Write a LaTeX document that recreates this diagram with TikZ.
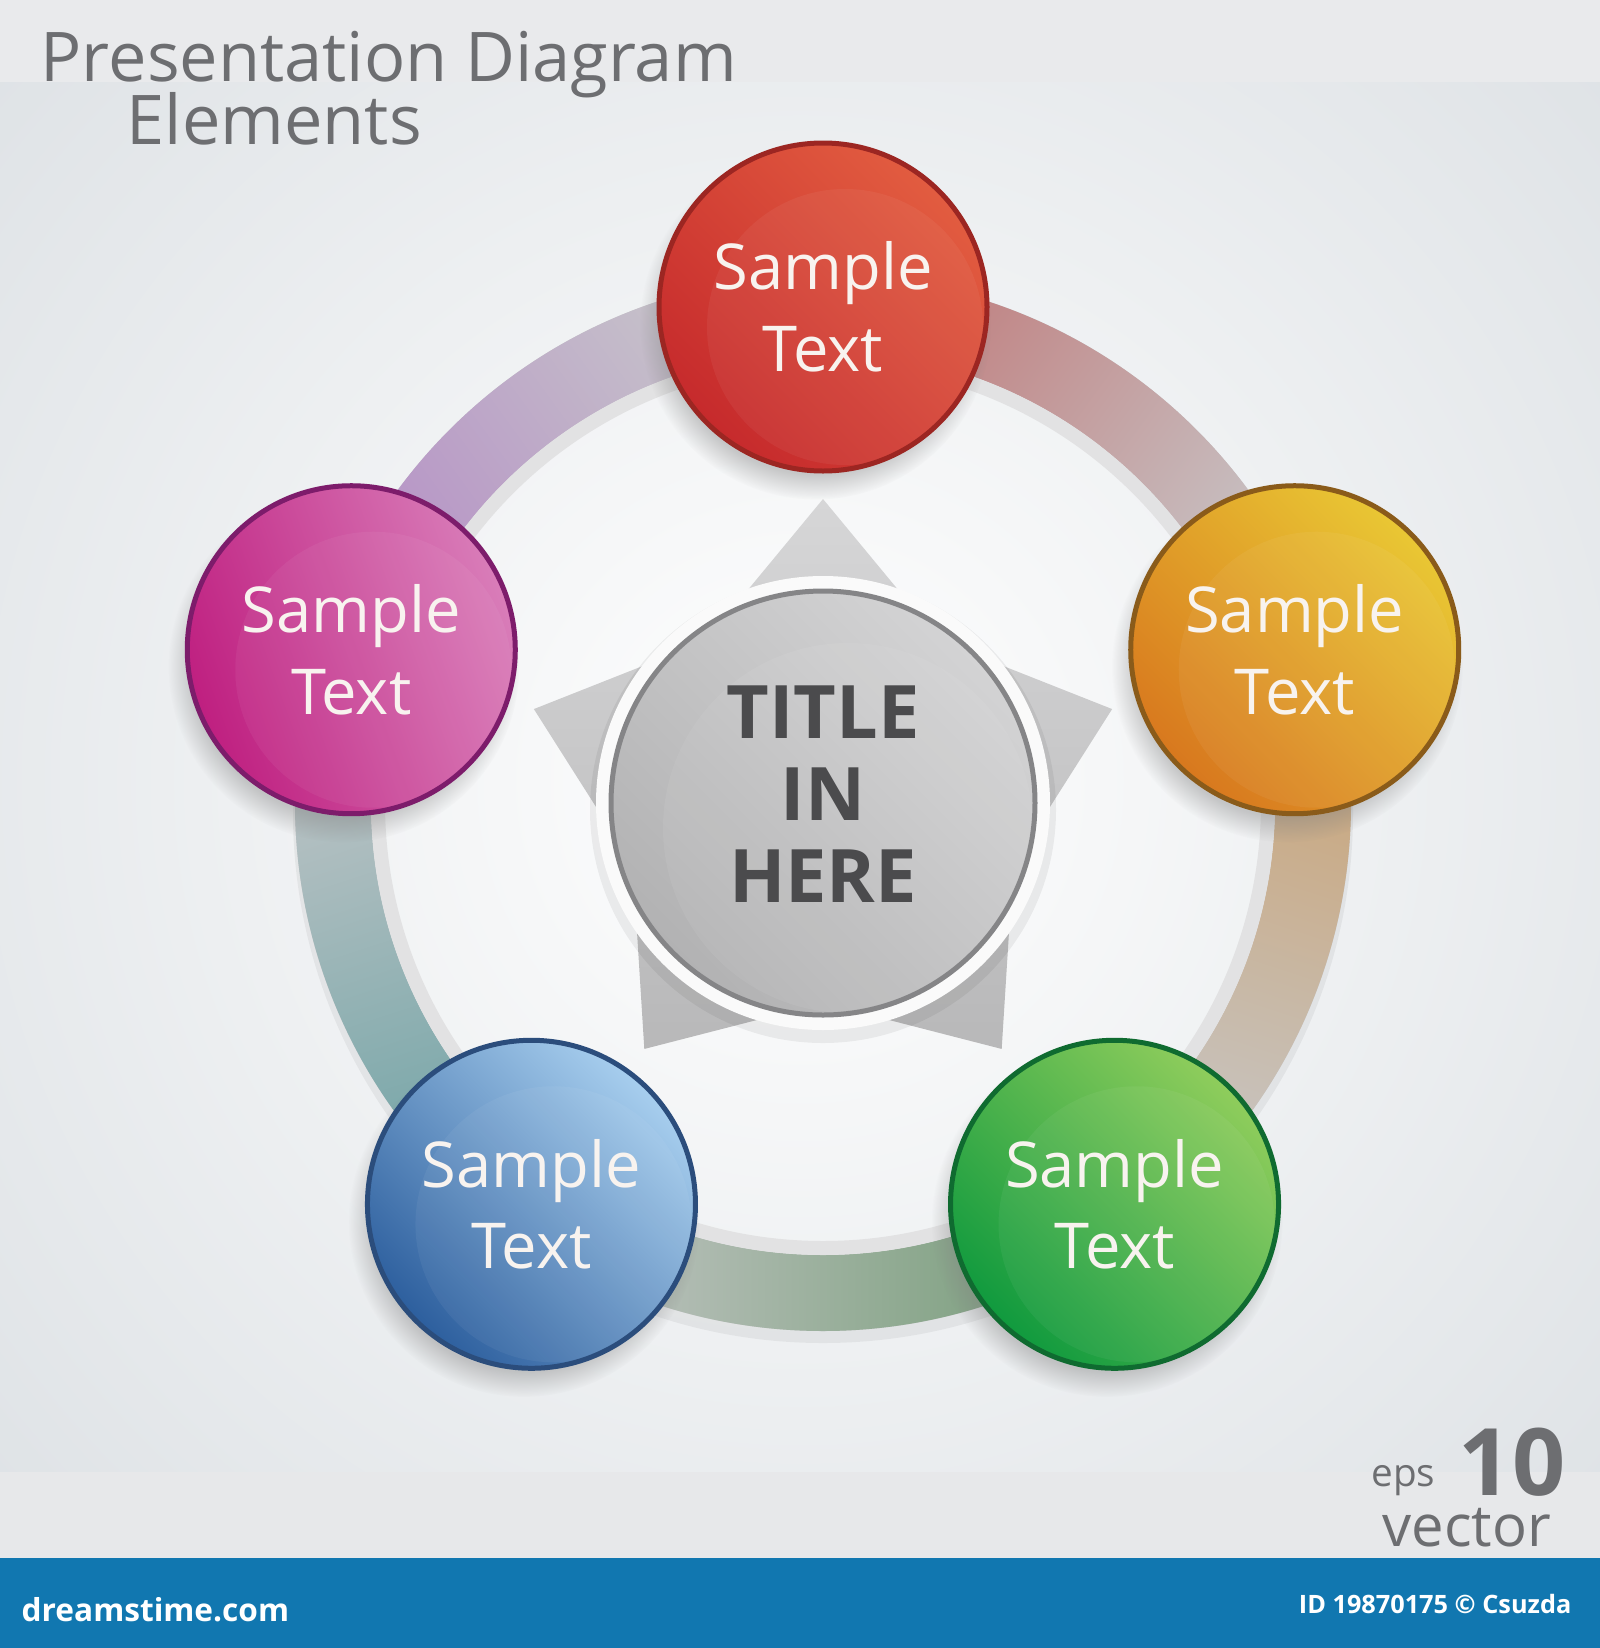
\documentclass[tikz,border=0pt]{standalone}
\usepackage{fontspec}
\setmainfont{Open Sans}
\usetikzlibrary{shadows}

%% page colours
\definecolor{topgray}{HTML}{E9EAEC}
\definecolor{botgray}{HTML}{E7E8EA}
\definecolor{bgedge}{HTML}{C6CDD3}
\definecolor{barblue}{HTML}{1177B0}
\definecolor{hdrgray}{HTML}{6D6E71}
\definecolor{ringgray}{HTML}{C8C8CA}
\definecolor{lipgray}{HTML}{E2E2E3}
\definecolor{starLt}{HTML}{D6D6D7}
\definecolor{starDk}{HTML}{B8B8B9}
\definecolor{diskLt}{HTML}{D3D3D4}
\definecolor{diskDk}{HTML}{B2B2B3}
\definecolor{diskRim}{HTML}{858587}
\definecolor{ttlgray}{HTML}{4B4B4D}
\definecolor{smpwhite}{HTML}{F8F3EF}
%% circle colours
\definecolor{redDk}{HTML}{C62A2C}
\definecolor{redLt}{HTML}{E25C40}
\definecolor{redRim}{HTML}{9C2622}
\definecolor{orgDk}{HTML}{D8781E}
\definecolor{orgLt}{HTML}{E9C734}
\definecolor{orgRim}{HTML}{8A5B1A}
\definecolor{grnDk}{HTML}{109A3E}
\definecolor{grnLt}{HTML}{8FCD5C}
\definecolor{grnRim}{HTML}{0F6B30}
\definecolor{bluDk}{HTML}{2D5F9E}
\definecolor{bluLt}{HTML}{A7CEEE}
\definecolor{bluRim}{HTML}{2B4D7C}
\definecolor{magDk}{HTML}{BF1F80}
\definecolor{magLt}{HTML}{D97DB9}
\definecolor{magRim}{HTML}{7D1C6B}
%% ring tints
\definecolor{tRed}{HTML}{C07E7E}
\definecolor{tOrg}{HTML}{C9A272}
\definecolor{tGrn}{HTML}{6E9870}
\definecolor{tBlu}{HTML}{6FA3A5}
\definecolor{tMag}{HTML}{B58FC6}

\tikzset{
  smp/.style={circle, minimum size=3.28cm, inner sep=0pt, line width=0.05cm,
    align=center, text=smpwhite, font=\fontsize{18}{23.3}\selectfont,
    circular drop shadow={shadow xshift=-0.07cm, shadow yshift=-0.16cm,
      shadow scale=1.07, opacity=0.4},
    path picture={\fill[white, opacity=0.05]
      ([shift={(0.22,-0.2)}]path picture bounding box.center) circle (1.38);}},
  hdr/.style={anchor=base west, inner sep=0pt, text=hdrgray,
    font=\fontsize{19.5}{23}\selectfont},
  epstxt/.style={inner sep=0pt, text=hdrgray},
  bartxt/.style={inner sep=0pt, text=white}
}

\begin{document}
\begin{tikzpicture}
\useasboundingbox (0,0) rectangle (16,-16.48);

%% Background bands
\fill[topgray] (0,0) rectangle (16,-0.82);
\begin{scope}
\clip (0,-0.82) rectangle (16,-14.72);
\shade[inner color=white, outer color=bgedge] (-11,-26.8) rectangle (27,11.2);
\end{scope}
\fill[botgray] (0,-14.72) rectangle (16,-15.58);
\fill[barblue] (0,-15.58) rectangle (16,-16.48);

%% Heading
\node[hdr] (hdrA) at (0.40,-0.81) {Presentation Diagram};
\node[hdr] (hdrB) at (1.26,-1.44) {Elements};

\begin{scope}[shift={(8.23,-8.03)}]
%% Ring
\draw[line width=0.5cm, black, opacity=0.05] (0,-0.1) circle (5.05);
\draw[line width=0.76cm, ringgray] (0,0) circle (4.90);
\shade[left color=tRed, right color=ringgray, shading angle=54]
  (90:5.28) arc (90:18:5.28) -- (18:4.52) arc (18:90:4.52) -- cycle;
\shade[left color=tOrg, right color=ringgray, shading angle=-18]
  (18:5.28) arc (18:-54:5.28) -- (-54:4.52) arc (-54:18:4.52) -- cycle;
\shade[left color=tGrn, right color=ringgray, shading angle=-90]
  (-54:5.28) arc (-54:-126:5.28) -- (-126:4.52) arc (-126:-54:4.52) -- cycle;
\shade[left color=tBlu, right color=ringgray, shading angle=-162]
  (-126:5.28) arc (-126:-198:5.28) -- (-198:4.52) arc (-198:-126:4.52) -- cycle;
\shade[left color=tMag, right color=ringgray, shading angle=126]
  (162:5.28) arc (162:90:5.28) -- (90:4.52) arc (90:162:4.52) -- cycle;
\draw[line width=0.14cm, lipgray] (0,0) circle (4.45);

%% Star behind the title
\shade[top color=starLt, bottom color=starDk]
  (90:3.04) -- (126:2.0) -- (162:3.04) -- (198:2.0) -- (234:3.04) --
  (270:2.0) -- (306:3.04) -- (342:2.0) -- (18:3.04) -- (54:2.0) -- cycle;

%% Title disk
\fill[black, opacity=0.06] (0,-0.07) circle (2.33);
\fill[white!96!gray] (0,0) circle (2.27);
\shadedraw[draw=diskRim, line width=0.05cm, left color=diskDk, right color=diskLt,
  shading angle=135] (0,0) circle (2.12);
\begin{scope}
\clip (0,0) circle (2.09);
\fill[white, opacity=0.06] (0.25,-0.25) circle (1.85);
\end{scope}
\node[align=center, text=ttlgray, font=\bfseries\fontsize{21}{23.3}\selectfont]
  (title) at (0,0.09) {TITLE\\IN\\HERE};

%% Sample circles
\node[smp, draw=redRim, left color=redDk, right color=redLt, shading angle=135]
  (cRed) at (90:4.96) {Sample\\Text};
\node[smp, draw=orgRim, left color=orgDk, right color=orgLt, shading angle=135]
  (cOrg) at (18:4.96) {Sample\\Text};
\node[smp, draw=grnRim, left color=grnDk, right color=grnLt, shading angle=135]
  (cGrn) at (-54:4.96) {Sample\\Text};
\node[smp, draw=bluRim, left color=bluDk, right color=bluLt, shading angle=135]
  (cBlu) at (-126:4.96) {Sample\\Text};
\node[smp, draw=magRim, left color=magDk, right color=magLt, shading angle=110]
  (cMag) at (162:4.96) {Sample\\Text};
\end{scope}

%% eps 10 vector
\node[epstxt, anchor=base east, font=\bfseries\fontsize{26.5}{26.5}\selectfont] (ten) at (15.66,-14.95) {10};
\node[epstxt, anchor=base east, font=\fontsize{11}{11}\selectfont] (eps) at (14.36,-14.86) {eps};
\node[epstxt, anchor=base west, font=\fontsize{16.5}{16.5}\selectfont] (vec) at (13.82,-15.46) {vector};

%% Bottom bar
\node[bartxt, anchor=west, font=\bfseries\fontsize{9}{9}\selectfont] (site) at (0.21,-16.10) {dreamstime.com};
\node[bartxt, anchor=east, font=\bfseries\fontsize{7.2}{7.2}\selectfont] (credit) at (15.72,-16.04) {ID 19870175 © Csuzda};
\end{tikzpicture}
\end{document}
